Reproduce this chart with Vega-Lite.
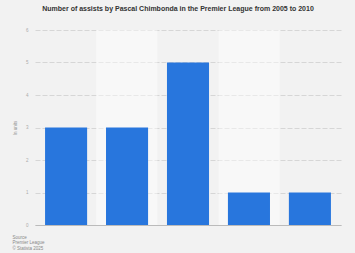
{
  "$schema": "https://vega.github.io/schema/vega-lite/v6.json",
  "width": 306,
  "height": 195,
  "autosize": "none",
  "padding": {"left": 35, "top": 30, "right": 14, "bottom": 28},
  "background": "#f2f2f2",
  "config": {
    "view": {"stroke": null},
    "font": "Liberation Sans",
    "axisY": {
      "values": [0, 1, 2, 3, 4, 5, 6],
      "labelOverlap": false, "labelFlush": false,
      "titleFontSize": 4.5, "titleFontWeight": "normal", "titleColor": "#999999",
      "titlePadding": 8,
      "labelFontSize": 4.5, "labelColor": "#aaaaaa", "labelPadding": 7,
      "ticks": false, "domain": false,
      "grid": true, "gridColor": "#d6d6d6", "gridDash": [5, 2]
    }
  },
  "title": {
    "text": "Number of assists by Pascal Chimbonda in the Premier League from 2005 to 2010",
    "fontSize": 7,
    "fontWeight": "bold",
    "color": "#333333",
    "anchor": "middle",
    "offset": 15,
    "dx": -10
  },
  "data": {
    "values": [
      {"season": "2005/06", "assists": 3},
      {"season": "2006/07", "assists": 3},
      {"season": "2007/08", "assists": 5},
      {"season": "2008/09", "assists": 1},
      {"season": "2009/10", "assists": 1}
    ]
  },
  "layer": [
    {
      "transform": [{"window": [{"op": "row_number", "as": "idx"}]}],
      "mark": {"type": "rect", "fill": "#ffffff"},
      "encoding": {
        "x": {"field": "season", "type": "ordinal", "sort": null, "scale": {"paddingInner": 0, "paddingOuter": 0}, "axis": null},
        "y": {"datum": 6, "type": "quantitative", "scale": {"domain": [0, 6]}, "axis": {"title": "In units", "values": [0, 1, 2, 3, 4, 5, 6]}},
        "y2": {"datum": 0},
        "opacity": {"condition": {"test": "datum.idx % 2 == 0", "value": 0.45}, "value": 0}
      }
    },
    {
      "mark": {"type": "bar", "color": "#2876dd"},
      "encoding": {
        "x": {
          "field": "season", "type": "ordinal", "sort": null,
          "scale": {"paddingInner": 0.31, "paddingOuter": 0.165},
          "axis": {
            "labels": false, "ticks": false, "domain": true, "domainColor": "#bbbbbb",
            "title": ["Source", "Premier League", "© Statista 2025"],
            "titleAnchor": "start", "titleAlign": "left", "titleX": -23, "titleY": 13,
            "titleFontSize": 4.5, "titleFontWeight": "normal", "titleColor": "#888888",
            "titleLineHeight": 5.8, "titleBaseline": "alphabetic"
          }
        },
        "y": {
          "field": "assists", "type": "quantitative",
          "scale": {"domain": [0, 6]},
          "axis": {"title": "In units", "values": [0, 1, 2, 3, 4, 5, 6]}
        }
      }
    }
  ],
  "resolve": {"scale": {"x": "independent"}}
}
